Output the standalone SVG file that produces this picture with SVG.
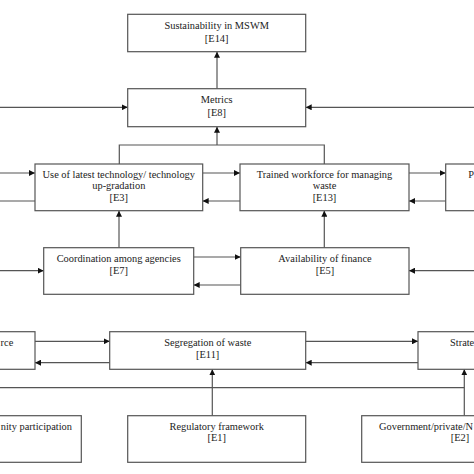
<svg xmlns="http://www.w3.org/2000/svg" width="474" height="474" viewBox="0 0 474 474">
<defs>
<marker id="ah" markerUnits="userSpaceOnUse" markerWidth="6" markerHeight="6" viewBox="0 0 6 6" refX="6" refY="3" orient="auto">
<path d="M0,0 L6,3 L0,6 Z" fill="#111"/>
</marker>
<style>
.box{fill:#fff;stroke:#555;stroke-width:1.2}
.t{font-family:"Liberation Serif","Times New Roman",serif;font-size:10.4px;fill:#222;text-anchor:middle}
.c line,.c polyline{stroke:#555;stroke-width:1.2;fill:none}
.a{marker-end:url(#ah)}
</style>
</defs>
<rect width="474" height="474" fill="#fff"/>
<g class="c" id="connectors">
<line class="a" x1="217" y1="88.7" x2="217" y2="51.7"/>
<line class="a" x1="0" y1="107.3" x2="127.7" y2="107.3"/>
<line class="a" x1="474" y1="107.3" x2="305.7" y2="107.3"/>
<polyline points="119.3,164 119.3,145 324.3,145 324.3,164"/>
<line class="a" x1="217" y1="145" x2="217" y2="126.7"/>
<line class="a" x1="0" y1="173" x2="35" y2="173"/>
<line x1="35" y1="201" x2="0" y2="201"/>
<line class="a" x1="202.7" y1="173" x2="240" y2="173"/>
<line class="a" x1="240" y1="201" x2="202.7" y2="201"/>
<line class="a" x1="409" y1="173" x2="445.7" y2="173"/>
<line class="a" x1="445.7" y1="201" x2="409" y2="201"/>
<line class="a" x1="119" y1="247.7" x2="119" y2="210.7"/>
<line class="a" x1="324.3" y1="247.7" x2="324.3" y2="210.7"/>
<line class="a" x1="193.7" y1="257" x2="240.7" y2="257"/>
<line class="a" x1="240.7" y1="285" x2="193.7" y2="285"/>
<line class="a" x1="0" y1="270.7" x2="43.7" y2="270.7"/>
<line class="a" x1="474" y1="270.7" x2="409" y2="270.7"/>
<line class="a" x1="35" y1="341.3" x2="109.7" y2="341.3"/>
<line class="a" x1="109.7" y1="362.7" x2="35" y2="362.7"/>
<line class="a" x1="305.7" y1="341.3" x2="418" y2="341.3"/>
<line class="a" x1="418" y1="362.7" x2="305.7" y2="362.7"/>
<line x1="0" y1="387.7" x2="464.3" y2="387.7"/>
<line class="a" x1="464.3" y1="415.7" x2="464.3" y2="369.3"/>
<line class="a" x1="212.3" y1="415.7" x2="212.3" y2="369.3"/>
</g>
<g id="E14"><rect class="box" x="127.7" y="14.3" width="178" height="37.4"/>
<text class="t" x="216.7" y="28.6">Sustainability in MSWM</text><text class="t" x="216.7" y="41.6">[E14]</text></g>
<g id="E8"><rect class="box" x="127.7" y="88.7" width="178" height="38"/>
<text class="t" x="216.7" y="102.6">Metrics</text><text class="t" x="216.7" y="115.6">[E8]</text></g>
<g id="E3"><rect class="box" x="35" y="164" width="167.7" height="46.7"/>
<text class="t" x="118.8" y="177.5">Use of latest technology/ technology</text><text class="t" x="118.8" y="189.3">up-gradation</text><text class="t" x="118.8" y="201.2">[E3]</text></g>
<g id="E13"><rect class="box" x="240" y="164" width="169" height="46.7"/>
<text class="t" x="324.5" y="177.5">Trained workforce for managing</text><text class="t" x="324.5" y="189.3">waste</text><text class="t" x="324.5" y="201.2">[E13]</text></g>
<g id="EP"><rect class="box" x="445.7" y="164" width="40" height="46.7"/>
<text class="t" x="468.3" y="177.5" style="text-anchor:start">P</text></g>
<g id="E7"><rect class="box" x="43.7" y="247.7" width="150" height="46.6"/>
<text class="t" x="118.7" y="261.8">Coordination among agencies</text><text class="t" x="118.7" y="273.6">[E7]</text></g>
<g id="E5"><rect class="box" x="240.7" y="247.7" width="168.3" height="46.6"/>
<text class="t" x="325" y="261.8">Availability of finance</text><text class="t" x="325" y="273.6">[E5]</text></g>
<g id="ELeft"><rect class="box" x="-10" y="331.7" width="45" height="37.6"/>
<text class="t" x="13.3" y="345.8" style="text-anchor:end">rce</text></g>
<g id="E11"><rect class="box" x="109.7" y="331.7" width="196" height="37.6"/>
<text class="t" x="207.7" y="345.8">Segregation of waste</text><text class="t" x="207.7" y="357.6">[E11]</text></g>
<g id="EStrat"><rect class="box" x="418" y="331.7" width="70" height="37.6"/>
<text class="t" x="450" y="345.8" style="text-anchor:start">Strate</text></g>
<g id="ECom"><rect class="box" x="-10" y="415.7" width="91.3" height="46.6"/>
<text class="t" x="72" y="429.6" style="text-anchor:end">nity participation</text></g>
<g id="E1"><rect class="box" x="127.7" y="415.7" width="178" height="46.6"/>
<text class="t" x="216.7" y="429.6">Regulatory framework</text><text class="t" x="216.7" y="441.3">[E1]</text></g>
<g id="E2"><rect class="box" x="361.7" y="415.7" width="130" height="46.6"/>
<text class="t" x="379" y="429.6" style="text-anchor:start">Government/private/N</text><text class="t" x="460" y="441.3">[E2]</text></g>
</svg>
